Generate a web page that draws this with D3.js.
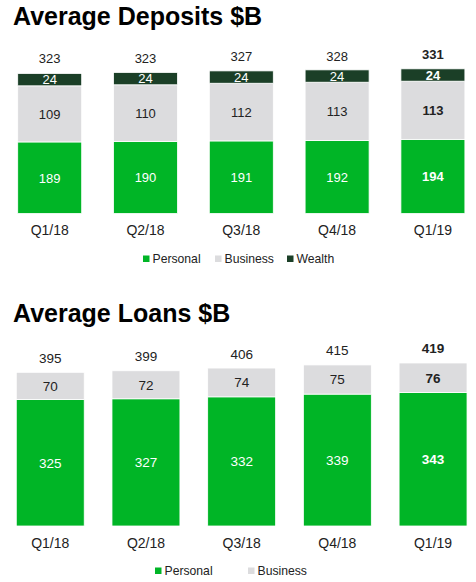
<!DOCTYPE html>
<html>
<head>
<meta charset="utf-8">
<script src="https://cdn.jsdelivr.net/npm/d3@7"></script>
<style>
  body { margin: 0; background: #fff; }
  text { font-family: Arial, "Liberation Sans", sans-serif; }
</style>
</head>
<body>
<div id="chart"></div>
<script>
// Data
const quarters = ["Q1/18", "Q2/18", "Q3/18", "Q4/18", "Q1/19"];

const depPersonal = [189, 190, 191, 192, 194];
const depBusiness = [109, 110, 112, 113, 113];
const depWealth = [24, 24, 24, 24, 24];
const depTotal = [323, 323, 327, 328, 331];

const loanPersonal = [325, 327, 332, 339, 343];
const loanBusiness = [70, 72, 74, 75, 76];
const loanTotal = [395, 399, 406, 415, 419];

const colors = { Personal: "#00b526", Business: "#dcdcde", Wealth: "#1b3f27" };
const labelColors = { Personal: "#fff", Business: "#222", Wealth: "#fff" };

const width = 476, height = 582;

const svg = d3.select("#chart").append("svg")
  .attr("width", width)
  .attr("height", height);

function drawPanel(opt) {
  const g = svg.append("g");

  // title
  g.append("text")
    .attr("x", 13)
    .attr("y", opt.titleY)
    .attr("font-size", 25)
    .attr("font-weight", "bold")
    .attr("fill", "#000")
    .text(opt.title);

  const x = d3.scaleBand()
    .domain(quarters)
    .range(opt.xRange)
    .paddingInner(opt.pad)
    .paddingOuter(opt.pad / 2);

  // value axis may start above zero (truncated), so clamp
  const y = d3.scaleLinear()
    .domain(opt.yDomain)
    .range(opt.yRange)
    .clamp(true);

  const rows = quarters.map((q, i) => {
    const r = { q: q };
    opt.keys.forEach(k => r[k] = opt.series[k][i]);
    r.total = opt.totals[i];
    return r;
  });

  const stacked = d3.stack().keys(opt.keys)(rows);

  const layer = g.selectAll("g.layer")
    .data(stacked)
    .join("g")
    .attr("class", "layer");

  layer.selectAll("rect")
    .data(s => s.map(d => ({ key: s.key, d: d })))
    .join("rect")
    .attr("x", p => x(p.d.data.q))
    .attr("width", x.bandwidth())
    .attr("y", p => y(p.d[1]))
    .attr("height", p => y(p.d[0]) - y(p.d[1]))
    .attr("fill", p => colors[p.key])
    .attr("stroke", "#fff")
    .attr("stroke-width", 0.8);

  // segment labels
  layer.selectAll("text")
    .data(s => s.map(d => ({ key: s.key, d: d })))
    .join("text")
    .attr("x", p => x(p.d.data.q) + x.bandwidth() / 2)
    .attr("y", p => (y(p.d[0]) + y(p.d[1])) / 2 + 4.8)
    .attr("text-anchor", "middle")
    .attr("font-size", opt.valSize)
    .attr("font-weight", p => p.d.data.q === "Q1/19" ? "bold" : "normal")
    .attr("fill", p => labelColors[p.key])
    .text(p => p.d.data[p.key]);

  // totals
  g.selectAll("text.total")
    .data(rows)
    .join("text")
    .attr("class", "total")
    .attr("x", d => x(d.q) + x.bandwidth() / 2)
    .attr("y", d => y(d.total) - 9.5)
    .attr("text-anchor", "middle")
    .attr("font-size", opt.valSize)
    .attr("font-weight", d => d.q === "Q1/19" ? "bold" : "normal")
    .attr("fill", "#222")
    .text(d => d.total);

  // category axis labels
  g.selectAll("text.cat")
    .data(quarters)
    .join("text")
    .attr("class", "cat")
    .attr("x", d => x(d) + x.bandwidth() / 2)
    .attr("y", opt.catY)
    .attr("text-anchor", "middle")
    .attr("font-size", 14)
    .attr("fill", "#222")
    .text(d => d);

  // legend
  const leg = g.selectAll("g.leg")
    .data(opt.keys)
    .join("g")
    .attr("class", "leg")
    .attr("transform", (d, i) => `translate(${opt.legendX[i]},${opt.legendY})`);
  leg.append("rect")
    .attr("x", 0).attr("y", -7.5)
    .attr("width", 6.5).attr("height", 6.5)
    .attr("fill", d => colors[d]);
  leg.append("text")
    .attr("x", 9.5).attr("y", 0)
    .attr("font-size", 12.2)
    .attr("fill", "#222")
    .text(d => d);
}

drawPanel({
  title: "Average Deposits $B",
  titleY: 25,
  keys: ["Personal", "Business", "Wealth"],
  series: { Personal: depPersonal, Business: depBusiness, Wealth: depWealth },
  totals: depTotal,
  xRange: [1.8, 480.8],
  pad: 0.332,
  yDomain: [50, 340],
  yRange: [213.5, 64.2],
  valSize: 13,
  catY: 235,
  legendX: [143, 215, 287],
  legendY: 263
});

drawPanel({
  title: "Average Loans $B",
  titleY: 322,
  keys: ["Personal", "Business"],
  series: { Personal: loanPersonal, Business: loanBusiness },
  totals: loanTotal,
  xRange: [2.4, 480.9],
  pad: 0.29,
  yDomain: [0, 430],
  yRange: [526, 358.7],
  valSize: 13.5,
  catY: 548,
  legendX: [155, 248],
  legendY: 575
});
</script>
</body>
</html>
